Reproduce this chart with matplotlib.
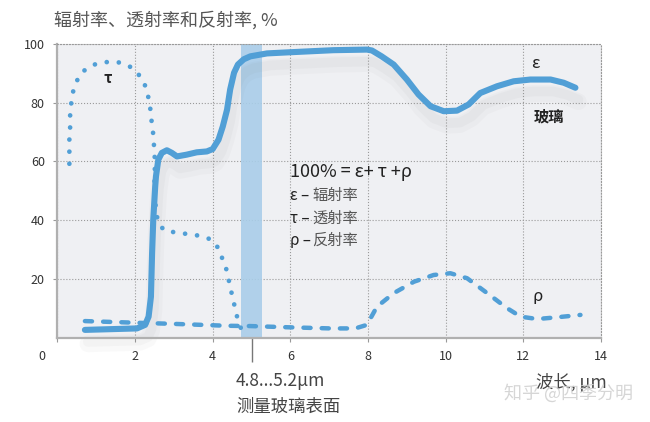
import numpy as np
import matplotlib
matplotlib.use("Agg")
import matplotlib.pyplot as plt
import matplotlib.transforms as mtransforms

plt.rcParams['font.family'] = ['Noto Sans CJK SC', 'DejaVu Sans']

# ε 辐射率 (solid)
eps_x = [0.71, 2.05, 2.26, 2.35, 2.41, 2.44, 2.47, 2.52, 2.54, 2.60, 2.69, 2.82, 2.95,
         3.08, 3.33, 3.59, 3.85, 4.00, 4.15, 4.26, 4.37, 4.45, 4.55, 4.65, 4.80, 4.97,
         5.40, 6.00, 7.11, 7.97, 8.10, 8.35, 8.66, 9.00, 9.30, 9.61, 9.95, 10.29,
         10.59, 10.89, 11.32, 11.75, 12.18, 12.70, 13.04, 13.34]
eps_y = [2.6, 3.1, 4.3, 7.1, 13.9, 28.8, 40.1, 51.5, 54.9, 60.6, 62.9, 63.8, 62.9,
         61.7, 62.3, 63.1, 63.4, 64.2, 67.4, 71.9, 77.6, 84.5, 90.2, 93.0, 94.8, 95.8,
         96.8, 97.2, 97.9, 98.1, 97.8, 95.8, 93.0, 87.9, 82.8, 78.8, 77.1, 77.3,
         79.4, 83.3, 85.6, 87.3, 87.9, 87.9, 86.8, 85.1]

# τ 透射率 (dotted)
tau_x = [0.31, 0.31, 0.31, 0.33, 0.33, 0.36, 0.41, 0.52, 0.71, 0.99, 1.30, 1.61, 1.90,
         2.12, 2.27, 2.35, 2.40, 2.43, 2.47, 2.49, 2.51, 2.51, 2.50, 2.51, 2.54, 2.58,
         2.73, 3.03, 3.33, 3.65, 3.94, 4.16, 4.26, 4.37, 4.43, 4.50, 4.57, 4.64, 4.75]
tau_y = [59.2, 63.4, 67.6, 71.7, 75.9, 80.0, 84.0, 87.9, 91.2, 93.2, 93.9, 93.7, 92.1,
         89.2, 85.6, 81.5, 77.4, 73.3, 69.2, 65.1, 60.8, 56.7, 52.6, 48.0, 43.7, 40.1,
         36.7, 35.8, 35.3, 34.7, 33.5, 30.3, 26.4, 22.6, 18.5, 14.4, 10.4, 6.4, 2.3]

# ρ 反射率 (dashed)
rho_x = [0.71, 1.87, 3.10, 4.37, 4.97, 5.91, 7.03, 7.67, 7.97, 8.23, 8.66, 9.18, 9.69,
         10.12, 10.55, 11.07, 11.58, 11.93, 12.36, 12.87, 13.47]
rho_y = [5.6, 5.1, 4.6, 4.0, 3.9, 3.5, 3.1, 3.1, 4.3, 10.5, 15.1, 19.0, 21.3,
         21.9, 20.2, 15.1, 10.0, 7.1, 6.3, 6.9, 7.7]

band = (4.73, 5.27)
x_ticks = [0, 2, 4, 6, 8, 10, 12, 14]
y_ticks = [20, 40, 60, 80, 100]

BLUE = "#519fd6"

fig = plt.figure(figsize=(6.5, 4.22), dpi=100)
ax = fig.add_axes([0.0882, 0.2002, 0.8365, 0.6955])
ax.set_facecolor("#eff0f3")
ax.set_xlim(0, 14)
ax.set_ylim(0, 100)

# grid
ax.set_xticks(x_ticks)
ax.set_yticks(y_ticks)
ax.grid(True, color="#9a9a9a", linestyle=":", linewidth=0.8)
ax.set_axisbelow(True)
for s in ["top", "right"]:
    ax.spines[s].set_linestyle(":")
    ax.spines[s].set_color("#9a9a9a")
    ax.spines[s].set_linewidth(0.8)
for s in ["left", "bottom"]:
    ax.spines[s].set_color("#b0b0b0")
    ax.spines[s].set_linewidth(1.6)

ax.axvspan(band[0], band[1], color="#a9cde9", alpha=0.9, lw=0, zorder=1)

# soft shadow under ε
for lw, al, dy in [(12, 0.035, -14), (7, 0.045, -12)]:
    tr = mtransforms.offset_copy(ax.transData, fig=fig, x=3, y=dy, units="dots")
    ax.plot(eps_x, eps_y, color="#707070", lw=lw, alpha=al, transform=tr,
            solid_capstyle="round", solid_joinstyle="round", zorder=2, clip_on=False)

ax.plot(eps_x, eps_y, color=BLUE, lw=4.4, solid_capstyle="round",
        solid_joinstyle="round", zorder=4)
ax.plot(tau_x, tau_y, color=BLUE, lw=3.4, linestyle=(0, (0.01, 2.55)),
        dash_capstyle="round", zorder=3)
ax.plot(rho_x, rho_y, color=BLUE, lw=3.2, linestyle=(0, (1.6, 2.5)),
        dash_capstyle="round", zorder=3)

# ticks
ax.tick_params(axis="both", which="major", length=3, width=0.8, color="#999999",
               labelsize=9, labelcolor="#333333", pad=6)
ax.set_xticklabels([str(v) for v in x_ticks])
ax.set_yticklabels([str(v) for v in y_ticks])
ax.set_xticks([5], minor=True)
ax.tick_params(axis="x", which="minor", length=17, width=1.0, color="#777777")
lab0 = ax.get_xticklabels()[0]
lab0.set_transform(lab0.get_transform() +
                   mtransforms.ScaledTranslation(-11 / 72, 0, fig.dpi_scale_trans))

# curve labels
ax.text(1.31, 88.5, "τ", fontsize=11, fontweight="bold", color="#222222",
        ha="center", va="center")
ax.text(12.3, 93.5, "ε", fontsize=12, color="#222222", ha="center", va="center")
ax.text(12.65, 75.2, "玻璃", fontsize=11, fontweight="bold", color="#222222",
        ha="center", va="center")
ax.text(12.36, 14.0, "ρ", fontsize=12, color="#222222", ha="center", va="center")

# formula block
fx = (290 - 57.3) / 38.8
ax.text(fx, 56.5, "100% = ε+ τ +ρ", fontsize=13, color="#222222", va="center")
for yv, g, t in [(48.5, "ε", "辐射率"), (40.5, "τ", "透射率"), (33.0, "ρ", "反射率")]:
    ax.text(fx, yv, g + " –", fontsize=11, color="#222222", va="center")
    ax.text(fx + 0.56, yv, t, fontsize=11, color="#555555", va="center")

# title and axis notes
fig.text(54 / 650, 1 - 20 / 422, "辐射率、透射率和反射率, %", fontsize=13,
         color="#555555", ha="left", va="center")
fig.text(236 / 650, 1 - 381 / 422, "4.8...5.2μm", fontsize=12.5,
         color="#444444", ha="left", va="center")
fig.text(236 / 650, 1 - 407 / 422, "测量玻璃表面", fontsize=12.5,
         color="#444444", ha="left", va="center")
fig.text(607 / 650, 1 - 383 / 422, "波长, μm", fontsize=12.5,
         color="#444444", ha="right", va="center")
fig.text(633 / 650, 1 - 393 / 422, "知乎 @四季分明", fontsize=13,
         color="#d2d2d2", ha="right", va="center", alpha=0.9)

fig.savefig("out.png", dpi=100, facecolor="white")
